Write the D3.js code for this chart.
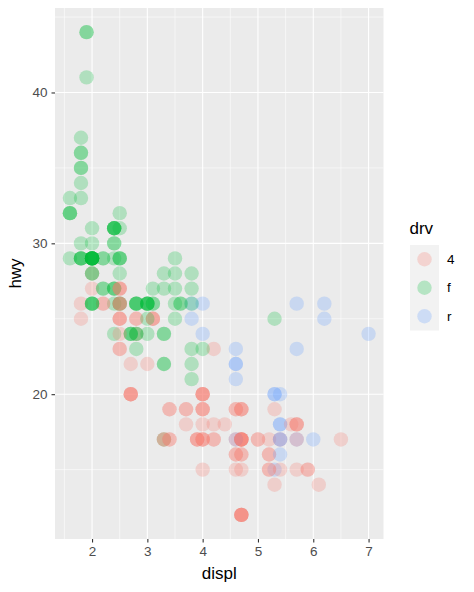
<!DOCTYPE html>
<html><head><meta charset="utf-8">
<script src="https://cdn.jsdelivr.net/npm/d3@7"></script>
<style>body{margin:0;background:#fff}text{font-family:"Liberation Sans",Arial,sans-serif}</style>
</head><body><svg id="c" width="474" height="592"></svg>
<script>
// mpg dataset, in data order, grouped by manufacturer
const displ = [
  1.8,1.8,2,2,2.8,2.8,3.1,1.8,1.8,2,2,2.8,2.8,3.1,3.1,2.8,3.1,4.2,               // audi 18
  5.3,5.3,5.3,5.7,6,5.7,5.7,6.2,6.2,7,5.3,5.3,5.7,6.5,2.4,2.4,3.1,3.5,3.6,       // chevrolet 19
  2.4,3,3.3,3.3,3.3,3.3,3.3,3.8,3.8,3.8,4, 3.7,3.7,3.9,3.9,4.7,4.7,4.7,5.2,5.2,
  3.9,4.7,4.7,4.7,5.2,5.7,5.9, 4.7,4.7,4.7,4.7,4.7,4.7,5.2,5.2,5.7,5.9,           // dodge 37
  4.6,5.4,5.4, 4,4,4,4,4.6,5, 4.2,4.2,4.6,4.6,4.6,5.4,5.4, 3.8,3.8,4,4,4.6,4.6,4.6,4.6,5.4, // ford 25
  1.6,1.6,1.6,1.6,1.6,1.8,1.8,1.8,2,                                             // honda 9
  2.4,2.4,2.4,2.4,2.5,2.5,3.3,2,2,2,2,2.7,2.7,2.7,                               // hyundai 14
  3,3.7,4,4.7,4.7,4.7,5.7,6.1,                                                   // jeep 8
  4,4.2,4.4,4.6,                                                                 // land rover 4
  5.4,5.4,5.4,                                                                   // lincoln 3
  4,4,4.6,5,                                                                     // mercury 4
  2.4,2.4,2.5,2.5,3.5,3.5,3,3,3.5,3.3,3.3,4,5.6,                                 // nissan 13
  3.1,3.8,3.8,3.8,5.3,                                                           // pontiac 5
  2.5,2.5,2.5,2.5,2.5,2.5,2.2,2.2,2.5,2.5,2.5,2.5,2.5,2.5,                       // subaru 14
  2.7,2.7,3.4,3.4,4,4.7, 2.2,2.2,2.4,2.4,3,3,3.5, 2.2,2.2,2.4,2.4,3,3,3.3,
  1.8,1.8,1.8,1.8,1.8, 4.7,5.7, 2.7,2.7,2.7,3.4,3.4,4,4,                         // toyota 34
  2,2,2,2,2.8, 1.9,2,2,2,2,2.5,2.5,2.8,2.8, 1.9,1.9,2,2,2.5,2.5, 1.8,1.8,2,2,2.8,2.8,3.6 // volkswagen 27
];
const hwy = [
  29,29,31,30,26,26,27,26,25,28,27,25,25,25,25,24,25,23,
  20,15,20,17,17,26,23,26,25,24,19,14,15,17,27,30,26,29,26,
  24,24,22,22,24,24,17,22,21,23,23, 19,18,17,17,19,19,12,17,15,
  17,17,12,17,16,18,15, 16,12,17,17,16,12,15,16,17,15,
  17,17,18, 17,19,17,19,19,17, 17,17,16,16,17,15,17, 26,25,26,24,21,22,23,22,20,
  33,32,32,29,32,34,36,36,29,
  26,27,30,31,26,26,28,26,29,28,29,24,24,24,
  22,19,20,17,12,19,18,14,
  15,18,18,15,
  17,16,18,
  17,19,19,17,
  29,27,31,32,27,26,26,25,25,17,17,20,18,
  26,26,27,28,25,
  25,24,27,25,26,23,26,26,26,26,27,23,27,25,
  20,20,19,17,20,17, 29,27,31,31,26,26,28, 27,29,31,31,26,26,27,
  30,33,35,37,35, 15,18, 20,20,22,17,19,18,20,
  29,26,29,29,24, 44,29,26,29,29,29,29,23,24, 44,41,29,26,28,29, 29,29,28,29,26,26,26
];
const drv = [
  "fffffff","44444444444",
  "rrrrrrrrrr","4444","fffff",
  "fffffffffff","4444444444","4444444444","444444",
  "rrr","4444444444","444","rrrrrrrrr",
  "fffffffff",
  "fffffffff","fffff",
  "44444444",
  "4444",
  "rrr",
  "4444",
  "fffffffff","4444",
  "fffff",
  "4444444444","4444",
  "444444","fffffffffff","ffffffff","444444444",
  "fffffffff","fffffffff","fffffffff"
].join("").split("");
const drvLevels = ["4","f","r"];
const drvColors = ["#F8766D","#00BA38","#619CFF"];
const xTicks = [2,3,4,5,6,7];
const yTicks = [20,30,40];
const pointAlpha = 0.25;

const svg = d3.select("#c");
const P = {l:55, r:383.5, t:8, b:539};
const xr = d3.extent(displ), yr = d3.extent(hwy);
const xpad = (xr[1]-xr[0])*0.05, ypad = (yr[1]-yr[0])*0.05;
const x = d3.scaleLinear().domain([xr[0]-xpad, xr[1]+xpad]).range([P.l, P.r]);
const y = d3.scaleLinear().domain([yr[0]-ypad, yr[1]+ypad]).range([P.b, P.t]);
const col = d3.scaleOrdinal().domain(drvLevels).range(drvColors);

svg.append("rect").attr("x",P.l).attr("y",P.t).attr("width",P.r-P.l).attr("height",P.b-P.t).attr("fill","#EBEBEB");
const minorX = xTicks.map(v=>v-0.5).concat([7.5]).filter(v=>v>=x.domain()[0]&&v<=x.domain()[1]);
const minorY = [15,25,35,45].filter(v=>v>=y.domain()[0]&&v<=y.domain()[1]);
const g = svg.append("g");
g.selectAll(".mx").data(minorX).join("line").attr("x1",d=>x(d)).attr("x2",d=>x(d)).attr("y1",P.t).attr("y2",P.b).attr("stroke","#fff").attr("stroke-width",0.55);
g.selectAll(".my").data(minorY).join("line").attr("y1",d=>y(d)).attr("y2",d=>y(d)).attr("x1",P.l).attr("x2",P.r).attr("stroke","#fff").attr("stroke-width",0.55);
g.selectAll(".Mx").data(xTicks).join("line").attr("x1",d=>x(d)).attr("x2",d=>x(d)).attr("y1",P.t).attr("y2",P.b).attr("stroke","#fff").attr("stroke-width",1.1);
g.selectAll(".My").data(yTicks).join("line").attr("y1",d=>y(d)).attr("y2",d=>y(d)).attr("x1",P.l).attr("x2",P.r).attr("stroke","#fff").attr("stroke-width",1.1);

const n = Math.min(displ.length, hwy.length, drv.length);
svg.append("g").selectAll("circle").data(d3.range(n).map(i=>({x:displ[i],y:hwy[i],c:drv[i]}))).join("circle")
  .attr("cx",d=>x(d.x)).attr("cy",d=>y(d.y)).attr("r",7.2)
  .attr("fill",d=>col(d.c)).attr("fill-opacity",pointAlpha);

const xa = svg.append("g").attr("transform",`translate(0,${P.b})`)
  .call(d3.axisBottom(x).tickValues(xTicks).tickSize(3.5).tickPadding(4).tickFormat(d3.format("d")));
const ya = svg.append("g").attr("transform",`translate(${P.l},0)`)
  .call(d3.axisLeft(y).tickValues(yTicks).tickSize(3.5).tickPadding(4).tickFormat(d3.format("d")));
[xa,ya].forEach(a=>{a.select(".domain").remove();a.selectAll("line").attr("stroke","#333").attr("stroke-width",1.1);
  a.selectAll("text").attr("fill","#4D4D4D").style("font-size","13.5px");});

svg.append("text").attr("x",(P.l+P.r)/2).attr("y",579).attr("text-anchor","middle").style("font-size","17px").text("displ");
svg.append("text").attr("transform",`translate(20.5,${(P.t+P.b)/2}) rotate(-90)`).attr("text-anchor","middle").style("font-size","17px").text("hwy");

// legend
const L = svg.append("g");
L.append("text").attr("x",409.5).attr("y",234).style("font-size","17px").text("drv");
const kh = 28.5, ky0 = 245;
L.append("rect").attr("x",410).attr("y",ky0).attr("width",29).attr("height",kh*3).attr("fill","#F2F2F2");
drvLevels.forEach((lv,i)=>{
  const cy = ky0 + kh*i + kh/2;
  L.append("circle").attr("cx",424.5).attr("cy",cy).attr("r",7.2).attr("fill",col(lv)).attr("fill-opacity",pointAlpha);
  L.append("text").attr("x",447).attr("y",cy).attr("dy","0.35em").style("font-size","13.5px").attr("fill","#000").text(lv);
});
</script></body></html>
